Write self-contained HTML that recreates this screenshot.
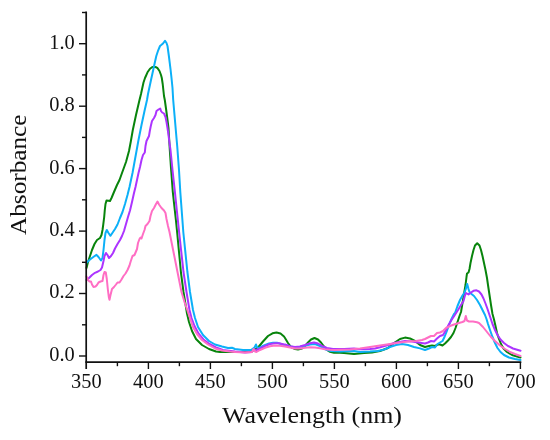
<!DOCTYPE html><html><head><meta charset="utf-8"><title>Absorbance spectrum</title><style>html,body{margin:0;padding:0;background:#fff}svg{display:block}text{font-family:"Liberation Serif",serif;fill:#111}</style></head><body>
<svg width="550" height="440" viewBox="0 0 550 440">
<rect width="550" height="440" fill="#fff"/>
<polyline points="86.5,268 88,262 90,256 92,250 94.5,244 97,240 100,238 101.5,235 102.5,230 103.2,225 104.2,217 104.8,210 105.5,204 106.5,200.5 108.5,200.8 110,201 111.5,198 114,192 117,185 119.5,180 122,173 126,162 129,151 130.8,141.5 132.8,130 136,115 139.5,100 141,94 143.5,82.5 145,78 147.5,72.3 150,68.7 152,67.3 154,66.8 156,67.2 157.5,68.2 159.5,71 161,75 161.8,78 162.7,84 164,96 164.8,100 166.2,110 167.5,120 168.5,128 169.8,150 171,168 172.8,192 174,203 176,221 177.3,234 179,252 181,273 183.5,292 187,313.5 189,322 192,331 196,339 202,345 209,349 216,351.5 220,352 230,352 240,352 250,351.5 254,350 258.5,347 263,341.5 268,336 272.5,333.3 276.5,332.5 280.5,333.5 284,336.5 285,338 288,343 291,347 295,349 298,349.6 302,348.5 305,346 308,342.5 311,339.5 314.5,338 318,339.5 321,342.5 324,346.5 327,350 330,351.8 334,352.8 340,352.8 344,353 354,354 364,353 372,352.4 380,351 388,348 394,343 400,339 405,337.6 410,338.4 415,341 420,345 425,347 429,346 432,345.5 435,346 438,344.5 440,344.5 442.5,345.5 445,343.5 448,340.5 451,337 453.5,333 455.5,328 457.5,322 459.5,316 461,312 462.5,303 464,294 465.5,285 466.5,277 467,273.5 468.5,272.5 469.5,269 470.5,263 472,256 473.5,250 475,245.5 477.2,243.2 479.5,245.5 481,250 482.5,256 484,263 485.5,270 487,278 488,285 489.5,295 491,305 492.5,314 494,319.5 495.5,326 497,333 499,339 501,344 503.5,348.5 507,352 512,355 517,356.5 520.5,357.5" fill="none" stroke="#08840c" stroke-width="2" stroke-linejoin="round" stroke-linecap="round"/>
<polyline points="86.5,262.8 90,259.5 94,256.5 96.5,254.8 98.5,257 101,260.5 102.5,258 103.5,250 104.5,240 105.5,233 106.8,230 108.5,233 110.5,235.8 113,232 115,229 117.5,224.5 120,218 122.5,212 125,204 127.5,195 129.5,187 131,180 132.5,173 134.5,162 136.5,151 138.5,140 141.5,125 144.5,111 147,100 148,94 151,80 153.2,70 154.5,64 156.3,56 158.2,50.3 160,46 161.5,44.8 163,43.5 165,40.8 166.5,43 167.5,46 169,57 170.5,69 171.5,78 172.5,88 173.2,100 174.5,115 175.8,130 177.2,146 179,170 180.3,192 183.3,232 187.4,272 190,292 193,310 195,318 198,327 203,335 209,341 215,344.5 222,346.5 228,348 232,347.8 235,349 243,350 251,350 254.5,347.5 256,344.5 257.2,347.5 259,348 264,345.5 269,343.5 273,342.8 277,342.8 284,345 285,345 290,346.5 295,347.2 300,346.8 305,345.8 310,344.6 315,344 320,346.2 323,348 327,350 331,351 340,351.5 354,351 360,352 370,351.6 378,351 384,349.6 390,347 396,345 402,344 408,345 414,347 420,348.4 425,350 429,348.5 432,347 435,347.5 437.5,344 440,342.5 442.5,341 444.5,337 446.5,332 449,325 451.5,319 454,314 455,313 457.5,306 460,300 462.5,295.5 464.5,292.5 465.8,289 467.2,284 468.5,289 469.5,292 471.5,294 474,296 477,300 480,305 482.5,310 485,315 486.5,319 488,324 490,330 492.5,337 495,343 497.5,348 500.5,352 504,355 509,357.5 515,359 520.5,360" fill="none" stroke="#0cb0f8" stroke-width="2" stroke-linejoin="round" stroke-linecap="round"/>
<polyline points="86.5,280 89,278 92,275 95,272.8 98,271.5 100.5,270 102,267.5 103.5,261 104.5,256 106,253 107.5,255 109,258 111,256 113,253 115,248.5 117.5,244 120,240 122,236 124,231 126,224 128,217 130,210.5 132,202 134,193 135.5,187 137,180 138.5,173 140,167 141.5,160 143,155 144.8,152.5 145.5,146 146.5,141 147.5,139 149,136 149.8,131 150.8,126 152,121 154,118 155.5,115 156.5,111 158.5,109.5 160.2,108.5 161,111 162.2,112.5 164,113.5 165.5,117 166.5,122 167.5,128 168.5,135 169.5,143 170.5,150 172.5,170 174.8,191 177,212 179.1,232 181.3,252 183.5,272 186.5,292 189.5,310 191.5,318 194.5,326 198.5,333.5 203.5,339.5 209.5,344 216,347.5 223,350 235,351.5 245,352.5 252,352 254,349.5 256.5,350 260,348.5 265,346 270,344 275,343.2 279,343.2 284,344.5 285,344.5 290,346.2 295,347 300,346.5 305,345 310,343.2 314,342.5 318,343.5 322,345.8 327,348 333,349 340,349 344,349 354,348.6 360,349.3 370,349 375,348.5 380,347.3 390,344.5 395,342.8 405,341 412,341.6 418,342.4 425,343.5 428,342.5 431,341 434,341.5 437,338.5 440,336 443,335 445.5,331 448.5,325 451.5,320 454.5,315.5 458,310 461,305 463.5,301 464.8,296 466,293 468.5,294.5 471,292.5 473.5,290.8 476.5,290.3 479,291.5 481.5,294.5 483.5,298.5 485.5,303.5 487.5,309 489.5,315 490.5,318 492.5,324 495,330 497.5,335 500.5,339.5 504,343 508,346 513,348.5 518,350 520.5,350.7" fill="none" stroke="#ac34ff" stroke-width="2" stroke-linejoin="round" stroke-linecap="round"/>
<polyline points="86.5,276.5 88,280 89.5,281.5 91,281.5 92,284.5 93.5,287 95.5,286.5 97,285 98.5,282.5 100.5,281.5 102.5,281 103.5,275 104.5,272 105.8,272.5 106.8,279 107.8,289 108.8,297 109.5,299.8 110.5,295 112,289 114,287 116,284.5 117.5,282.5 119.5,282.5 121.5,279.5 123.5,276 125.5,273.5 127.5,270 129.5,265.5 130.5,262 132.5,256 134.5,255 137,249 138,243 139.5,239 140.5,237.5 141.5,238.5 143,234 144.5,230 145.5,226 147.5,224 149.5,221 150.5,216 152,211 154,208 156,204 157.5,201.5 159,204.5 161.5,208 164,210.5 165.5,213 166.5,219 168,226 169.5,232 173.5,252 177.5,272 181.5,292 184.5,302 187.5,310.5 190,318 193,327 197,334 202,340 208,344.5 215,348.5 222,350.5 230,351.5 235,352 245,352.5 252,352 253.5,349 255,351.5 256.5,352 260,350 265,347.8 270,346.2 275,345.5 280,345.8 285,346.5 290,347.5 295,348.5 300,348.5 305,347.8 310,347.3 315,347.5 320,348.2 325,349.2 330,349.8 335,350 340,349.8 350,349.4 360,348.4 370,347 380,345.6 390,344 400,342.6 408,341.6 416,341 422,340 425,339 428,337.5 431,336 434,336 437,333 440,332.5 443,331 446,328 450,326 454,324.5 458,323.2 462.5,322 464.5,321 465.8,316 467,320.5 469,321.5 473,321.5 477,322.3 479,323 483,327 487,332 491,337 495,341 500,345.5 505,349 510,352 515,354 520.5,356" fill="none" stroke="#ff6ec4" stroke-width="2" stroke-linejoin="round" stroke-linecap="round"/>
<g stroke="#111" stroke-width="1.7" fill="none" stroke-linecap="butt">
<line x1="86.2" y1="11.6" x2="86.2" y2="369"/>
<line x1="85.35000000000001" y1="362.2" x2="521.3" y2="362.2"/>
</g>
<g stroke="#111" stroke-width="1.4" fill="none">
<line x1="79" y1="356.0" x2="86.2" y2="356.0"/>
<line x1="82" y1="324.8" x2="86.2" y2="324.8"/>
<line x1="79" y1="293.5" x2="86.2" y2="293.5"/>
<line x1="82" y1="262.3" x2="86.2" y2="262.3"/>
<line x1="79" y1="231.1" x2="86.2" y2="231.1"/>
<line x1="82" y1="199.8" x2="86.2" y2="199.8"/>
<line x1="79" y1="168.6" x2="86.2" y2="168.6"/>
<line x1="82" y1="137.4" x2="86.2" y2="137.4"/>
<line x1="79" y1="106.2" x2="86.2" y2="106.2"/>
<line x1="82" y1="74.9" x2="86.2" y2="74.9"/>
<line x1="79" y1="43.7" x2="86.2" y2="43.7"/>
<line x1="82" y1="12.5" x2="86.2" y2="12.5"/>
<line x1="117.4" y1="362.2" x2="117.4" y2="366.2"/>
<line x1="148.4" y1="362.2" x2="148.4" y2="369"/>
<line x1="179.4" y1="362.2" x2="179.4" y2="366.2"/>
<line x1="210.4" y1="362.2" x2="210.4" y2="369"/>
<line x1="241.4" y1="362.2" x2="241.4" y2="366.2"/>
<line x1="272.4" y1="362.2" x2="272.4" y2="369"/>
<line x1="303.4" y1="362.2" x2="303.4" y2="366.2"/>
<line x1="334.4" y1="362.2" x2="334.4" y2="369"/>
<line x1="365.4" y1="362.2" x2="365.4" y2="366.2"/>
<line x1="396.4" y1="362.2" x2="396.4" y2="369"/>
<line x1="427.4" y1="362.2" x2="427.4" y2="366.2"/>
<line x1="458.4" y1="362.2" x2="458.4" y2="369"/>
<line x1="489.4" y1="362.2" x2="489.4" y2="366.2"/>
<line x1="520.4" y1="362.2" x2="520.4" y2="369"/>
</g>
<g font-size="20" text-anchor="end">
<text transform="translate(74.8,360.9) scale(1.02,1)">0.0</text>
<text transform="translate(74.8,298.4) scale(1.02,1)">0.2</text>
<text transform="translate(74.8,236.0) scale(1.02,1)">0.4</text>
<text transform="translate(74.8,173.5) scale(1.02,1)">0.6</text>
<text transform="translate(74.8,111.1) scale(1.02,1)">0.8</text>
<text transform="translate(74.8,48.6) scale(1.02,1)">1.0</text>
</g>
<g font-size="20" text-anchor="middle">
<text transform="translate(86.4,388.3) scale(1.02,1)">350</text>
<text transform="translate(148.4,388.3) scale(1.02,1)">400</text>
<text transform="translate(210.4,388.3) scale(1.02,1)">450</text>
<text transform="translate(272.4,388.3) scale(1.02,1)">500</text>
<text transform="translate(334.4,388.3) scale(1.02,1)">550</text>
<text transform="translate(396.4,388.3) scale(1.02,1)">600</text>
<text transform="translate(458.4,388.3) scale(1.02,1)">650</text>
<text transform="translate(520.4,388.3) scale(1.02,1)">700</text>
</g>
<text x="222" y="422.8" font-size="23" textLength="180" lengthAdjust="spacingAndGlyphs">Wavelength (nm)</text>
<text transform="translate(25.6,235) rotate(-90)" font-size="23" textLength="120.5" lengthAdjust="spacingAndGlyphs">Absorbance</text>
</svg></body></html>
